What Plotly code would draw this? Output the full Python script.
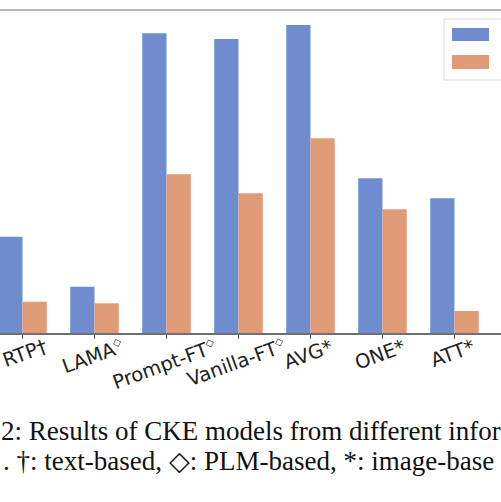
import plotly.graph_objects as go

# ---- data (y in arbitrary units) ----
DIA = "<sup><span style='font-size:11px'>◇</span></sup>"
categories = ["RTP†", "LAMA" + DIA, "Prompt-FT" + DIA, "Vanilla-FT" + DIA,
              "AVG*", "ONE*", "ATT*"]
series_blue = [9.63, 4.63, 29.97, 29.40, 30.80, 15.47, 13.47]
series_orange = [3.13, 2.97, 15.87, 13.97, 19.47, 12.37, 2.20]
caption_line1 = "2: Results of CKE models from different infor"
caption_line2 = ". †: text-based, ◇: PLM-based, *: image-base"

BLUE = "#6E8CCE"
ORANGE = "#E19C77"

W, H = 501, 502
ML, MR, MT, MB = 0, 0, 10, 169
PW, PH = W - ML - MR, H - MT - MB
XRANGE = [-0.3125, 6.646]


def xp(px):
    return (px - ML) / PW


def yp(py):
    return (H - MB - py) / PH


xs = list(range(len(series_blue)))

fig = go.Figure()
fig.add_bar(x=xs, y=series_blue, name="Series 1", marker_color=BLUE, marker_line_width=0)
fig.add_bar(x=xs, y=series_orange, name="Series 2", marker_color=ORANGE, marker_line_width=0)

label_font = dict(family="DejaVu Sans", size=19.5, color="#222222")
annotations = []
for i, lab in enumerate(categories):
    annotations.append(dict(
        x=i, xref="x", y=0, yref="paper", yanchor="top", xanchor="center",
        yshift=1, xshift=(2 if i == 0 else -2), text=lab, textangle=-20,
        showarrow=False, font=label_font,
    ))

cap_font = dict(family="Liberation Serif", size=27, color="#111111")
annotations.append(dict(
    x=xp(-1), y=yp(431), xref="paper", yref="paper", xanchor="left", yanchor="middle",
    text=caption_line1, showarrow=False, font=cap_font,
))
annotations.append(dict(
    x=xp(1), y=yp(461), xref="paper", yref="paper", xanchor="left", yanchor="middle",
    text=caption_line2, showarrow=False, font=cap_font,
))

shapes = [
    # top spine
    dict(type="line", xref="paper", yref="paper", x0=0, x1=1, y0=1, y1=1,
         line=dict(color="#A0A0A0", width=1.5)),
    # legend frame (cut by the right edge)
    dict(type="rect", xref="paper", yref="paper", x0=xp(444), x1=xp(530), y0=yp(80), y1=yp(19),
         line=dict(color="#DCDCDC", width=1), fillcolor="rgba(255,255,255,0.9)"),
    dict(type="rect", xref="paper", yref="paper", x0=xp(452), x1=xp(489), y0=yp(41), y1=yp(28),
         line=dict(width=0), fillcolor=BLUE),
    dict(type="rect", xref="paper", yref="paper", x0=xp(452), x1=xp(489), y0=yp(69), y1=yp(55),
         line=dict(width=0), fillcolor=ORANGE),
]

fig.update_layout(
    width=W, height=H,
    margin=dict(l=ML, r=MR, t=MT, b=MB),
    barmode="group", bargap=0.326, bargroupgap=0,
    plot_bgcolor="white", paper_bgcolor="white",
    showlegend=False,
    xaxis=dict(range=XRANGE, tickvals=xs, showticklabels=False,
               ticks="outside", ticklen=4, tickwidth=1, tickcolor="#555555",
               showline=True, linecolor="#707070", linewidth=1.5,
               showgrid=False, zeroline=False, fixedrange=True),
    yaxis=dict(range=[0, 32.3], visible=False, fixedrange=True),
    annotations=annotations,
    shapes=shapes,
)

fig.write_html(
    "out.html",
    config={"displayModeBar": False},
    post_script="document.body.style.margin='0';document.body.style.overflow='hidden';",
)
